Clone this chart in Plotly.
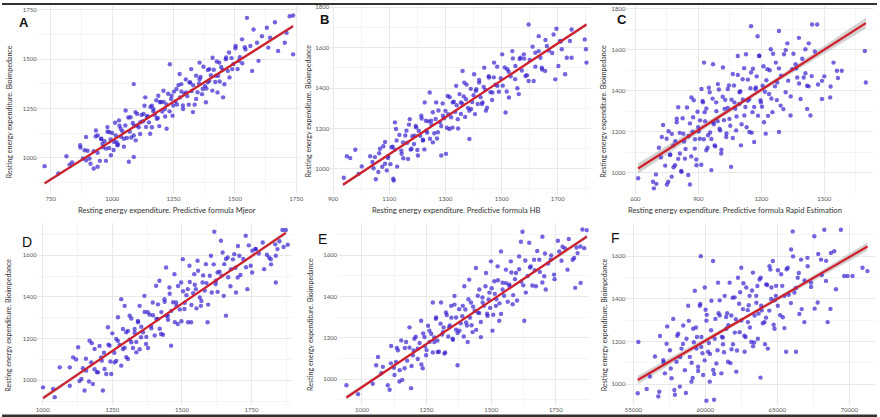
import numpy as np
import plotly.graph_objects as go

# ---------------- data ----------------
panel_letters = ["A", "B", "C", "D", "E", "F"]
x_titles = ["Resting energy expenditure. Predictive formula Mjeor",
            "Resting energy expenditure. Predictive formula HB",
            "Resting energy expenditure. Predictive formula Rapid Estimation"]
y_title = "Resting energy expenditure. Bioimpedance"

a_xy = [(725,958),(781,921),(814,1008),(827,966),(837,977),(870,1064),(871,1052),(888,1039),(881,997),(894,988),
(908,997),(894,1106),(925,946),(941,955),(934,1139),(941,1114),(955,1097),(961,1072),(975,1047),(981,1156),
(988,1131),(995,1013),(1008,1081),(1015,1114),(1021,1064),(1028,1190),(1035,1148),(1048,1097),(1055,1240),(1068,980),
(1075,1206),(1088,1005),(1088,1114),(1088,1374),(1095,1232),(1102,1164),(1115,1181),(1128,1223),(1135,1307),(1142,1206),
(1155,1122),(1162,1265),(1168,1248),(1182,1198),(1188,1315),(1195,1282),(1209,1340),(1215,1248),(1222,1148),(1235,1475),
(1242,1315),(1249,1265),(1262,1349),(1275,1425),(1282,1374),(1289,1248),(1302,1332),(1315,1383),(1322,1450),(1329,1232),
(1342,1299),(1356,1399),(1356,1483),(1369,1349),(1382,1282),(1389,1383),(1396,1450),(1409,1508),(1422,1416),(1429,1332),
(1436,1483),(1452,1307),(1463,1500),(1476,1534),(1489,1450),(1503,1567),(1516,1492),(1529,1601),(1543,1550),(1549,1710),
(1563,1567),(1570,1441),(1576,1651),(1590,1584),(1596,1492),(1610,1617),(1630,1660),(1636,1559),(1643,1609),(1663,1688),
(1676,1542),(1703,1584),(1710,1634),(1723,1718),(1737,1722),(1737,1525),
(900,1036),(912,970),(925,1034),(933,1109),(941,1026),(950,985),(956,1096),(962,1054),(969,1084),(975,985),
(981,1133),(988,1050),(994,1093),(1000,1126),(1006,1040),(1012,1178),(1018,1080),(1024,1068),(1030,1163),(1036,1107),
(1042,1135),(1048,1057),(1054,1164),(1060,1101),(1066,1205),(1072,1133),(1078,1103),(1084,1177),(1090,1163),(1096,1089),
(1102,1223),(1108,1155),(1114,1121),(1120,1218),(1126,1186),(1132,1264),(1138,1157),(1144,1213),(1150,1180),(1156,1258),
(1162,1155),(1168,1237),(1174,1217),(1180,1292),(1186,1202),(1192,1161),(1198,1284),(1204,1235),(1210,1283),(1216,1210),
(1222,1271),(1228,1325),(1234,1236),(1240,1298),(1246,1214),(1252,1336),(1258,1286),(1264,1271),(1270,1369),(1276,1306),
(1282,1337),(1288,1266),(1294,1325),(1300,1398),(1306,1313),(1312,1270),(1318,1382),(1324,1339),(1330,1368),(1336,1270),
(1342,1417),(1348,1333),(1354,1377),(1360,1410),(1366,1323),(1372,1462),(1378,1364),(1384,1352),(1390,1446),(1396,1391),
(1402,1419),(1408,1341),(1414,1447),(1420,1385),(1426,1489),(1432,1416),(1438,1387),(1444,1461),(1450,1447),(1457,1373),
(1464,1509),(1471,1441),(1478,1408),(1486,1506),(1494,1476),(1502,1556),(1511,1451),(1520,1510),(1530,1480),(1540,1561)]

b_xy = [(938,956),(949,1062),(961,1053),(979,1094),(991,975),(1002,1012),(1032,1062),(1044,1003),(1049,1058),(1061,984),
(1067,1099),(1079,1112),(1085,1025),(1091,992),(1096,1062),(1108,1107),(1114,951),(1116,942),(1120,1230),(1124,1197),
(1126,1140),(1144,1074),(1149,1131),(1161,1189),(1167,1049),(1173,1246),(1179,1099),(1191,1164),(1196,1205),(1202,1066),
(1214,1263),(1220,1140),(1226,1329),(1232,1189),(1244,1378),(1249,1238),(1255,1131),(1267,1329),(1273,1181),(1285,1066),
(1291,1263),(1302,1074),(1308,1361),(1314,1197),(1326,1329),(1338,1411),(1344,1246),(1355,1329),(1361,1485),(1367,1427),
(1373,1345),(1385,1148),(1391,1296),(1402,1468),(1408,1386),(1420,1427),(1432,1329),(1438,1501),(1444,1288),(1455,1452),
(1467,1378),(1473,1526),(1485,1411),(1502,1567),(1514,1279),(1520,1493),(1526,1353),(1538,1583),(1549,1509),(1561,1370),
(1567,1550),(1579,1567),(1585,1460),(1596,1715),(1596,1435),(1614,1435),(1620,1575),(1632,1657),(1638,1550),(1643,1501),
(1655,1485),(1661,1608),(1685,1665),(1691,1443),(1702,1509),(1708,1633),(1714,1592),(1726,1468),(1732,1550),(1743,1633),
(1749,1690),(1749,1550),(1796,1641),(1800,1592),(1802,1526),
(1040,1034),(1052,948),(1064,1077),(1075,1010),(1085,1133),(1095,1053),(1104,1023),(1112,1110),(1120,1095),(1128,1011),
(1136,1168),(1143,1090),(1150,1052),(1157,1165),(1164,1129),(1170,1219),(1176,1095),(1182,1161),(1188,1123),(1194,1212),
(1200,1093),(1205,1188),(1210,1164),(1215,1249),(1220,1144),(1225,1096),(1230,1238),(1235,1179),(1240,1235),(1245,1149),
(1250,1218),(1255,1280),(1260,1176),(1265,1247),(1270,1150),(1275,1289),(1280,1231),(1285,1212),(1290,1324),(1295,1250),
(1300,1287),(1305,1203),(1310,1270),(1315,1355),(1320,1255),(1325,1204),(1330,1332),(1335,1282),(1340,1315),(1345,1200),
(1350,1370),(1355,1272),(1360,1322),(1365,1359),(1370,1257),(1375,1417),(1380,1302),(1385,1288),(1390,1396),(1395,1331),
(1400,1364),(1405,1271),(1410,1394),(1415,1321),(1420,1440),(1425,1355),(1430,1321),(1436,1406),(1442,1390),(1448,1303),
(1454,1459),(1460,1380),(1466,1341),(1472,1453),(1478,1416),(1484,1506),(1490,1382),(1497,1449),(1504,1412),(1511,1502),
(1518,1383),(1525,1481),(1532,1458),(1540,1547),(1548,1444),(1556,1399),(1564,1544),(1572,1487),(1580,1546),(1590,1464),
(1600,1539),(1610,1605),(1620,1506),(1632,1583),(1644,1492),(1656,1638),(1668,1586),(1680,1574),(1695,1694),(1710,1630)]

c_xy = [(613,973),(684,956),(688,924),(698,992),(726,1175),(749,1166),(757,956),(765,1086),(773,981),(781,1134),
(789,1037),(797,1247),(804,1320),(812,1094),(820,1005),(828,1191),(836,1069),(852,989),(860,943),(867,1368),
(875,1271),(883,1118),(891,1037),(899,1223),(907,1166),(915,1409),(922,1344),(927,1538),(930,1296),(938,1110),
(946,1183),(954,1393),(962,1013),(970,1530),(970,1247),(978,1134),(985,1344),(993,1433),(1001,1215),(1009,1094),
(1017,1514),(1025,1312),(1033,1175),(1040,1409),(1048,1263),(1056,1029),(1064,1482),(1072,1344),(1080,1207),(1088,1570),
(1096,1393),(1103,1134),(1111,1457),(1119,1280),(1127,1579),(1135,1352),(1143,1199),(1151,1490),(1158,1296),(1166,1150),
(1174,1417),(1182,1667),(1190,1570),(1198,1344),(1206,1425),(1213,1247),(1221,1191),(1229,1506),(1237,1385),(1245,1603),
(1253,1296),(1269,1538),(1276,1441),(1284,1692),(1284,1199),(1292,1328),(1308,1579),(1316,1393),(1324,1632),(1339,1280),
(1347,1506),(1363,1530),(1371,1465),(1379,1659),(1387,1360),(1402,1465),(1410,1603),(1418,1425),(1418,1312),(1426,1632),
(1434,1280),(1442,1724),(1466,1724),(1489,1449),(1489,1360),(1528,1368),(1544,1538),(1560,1498),(1583,1498),(1693,1595),
(1698,1441),(1151,1716),
(700,946),(712,1122),(722,1075),(732,1233),(742,1035),(750,943),(758,1203),(766,1090),(774,1190),(782,1027),
(790,1154),(797,1264),(804,1068),(811,1195),(818,1009),(825,1266),(832,1153),(839,1116),(846,1319),(853,1178),
(860,1241),(866,1080),(872,1201),(878,1354),(884,1164),(890,1065),(896,1298),(902,1202),(908,1256),(914,1039),
(920,1351),(926,1164),(932,1252),(938,1314),(944,1122),(950,1415),(956,1197),(962,1165),(968,1362),(974,1237),
(980,1129),(986,1301),(992,1252),(998,1407),(1004,1207),(1010,1113),(1016,1371),(1022,1257),(1028,1356),(1034,1192),
(1040,1317),(1046,1427),(1052,1230),(1058,1357),(1064,1170),(1070,1426),(1076,1313),(1082,1275),(1088,1478),(1094,1335),
(1100,1398),(1106,1237),(1112,1358),(1118,1511),(1124,1321),(1130,1222),(1136,1455),(1142,1359),(1148,1413),(1154,1196),
(1160,1508),(1166,1321),(1172,1408),(1178,1471),(1184,1279),(1190,1572),(1196,1354),(1203,1323),(1210,1520),(1217,1396),
(1224,1452),(1232,1278),(1240,1501),(1248,1363),(1256,1581),(1265,1422),(1274,1355),(1284,1510),(1294,1474),(1305,1311),
(1316,1599),(1328,1450),(1340,1373),(1353,1581),(1366,1510),(1380,1436),(1395,1557),(1410,1486),(1425,1422),(1440,1472),
(1455,1592),(1470,1431),(1500,1471),(1530,1421),(1565,1463)]

d_xy = [(1001,966),(1037,958),(1043,919),(1061,1062),(1097,974),(1097,1062),(1109,1110),(1127,1158),(1139,1006),(1150,951),
(1156,1046),(1168,1190),(1174,1086),(1180,982),(1186,1150),(1198,1038),(1210,1110),(1216,951),(1222,1054),(1234,1254),
(1240,1166),(1246,1030),(1258,1086),(1264,1198),(1270,1302),(1282,1389),(1288,1150),(1294,1357),(1300,1230),(1306,1102),
(1312,1310),(1318,1182),(1330,1246),(1336,1134),(1342,1278),(1348,1357),(1353,1206),(1365,1405),(1371,1174),(1377,1326),
(1389,1262),(1395,1373),(1407,1453),(1413,1294),(1419,1477),(1425,1222),(1437,1389),(1443,1541),(1449,1310),(1455,1445),
(1461,1166),(1473,1509),(1479,1373),(1485,1270),(1497,1469),(1503,1581),(1509,1342),(1521,1437),(1527,1549),(1533,1278),
(1544,1509),(1550,1437),(1556,1573),(1568,1357),(1574,1469),(1586,1557),(1592,1278),(1604,1597),(1616,1712),(1622,1477),
(1628,1517),(1640,1669),(1646,1613),(1652,1557),(1658,1310),(1664,1589),(1676,1533),(1688,1605),(1694,1421),(1700,1493),
(1706,1597),(1729,1693),(1735,1437),(1747,1549),(1753,1621),(1765,1629),(1795,1533),(1813,1589),(1819,1581),(1837,1597),
(1837,1469),(1843,1629),(1861,1721),(1873,1721),
(1120,1100),(1132,996),(1144,1058),(1155,1103),(1166,994),(1176,1178),(1186,1053),(1195,1039),(1204,1164),(1212,1094),
(1220,1132),(1228,1030),(1236,1171),(1243,1090),(1250,1225),(1257,1132),(1264,1093),(1270,1189),(1276,1169),(1282,1070),
(1288,1246),(1294,1156),(1300,1111),(1306,1237),(1312,1195),(1318,1296),(1324,1155),(1330,1228),(1336,1184),(1342,1285),
(1348,1149),(1354,1257),(1360,1230),(1366,1328),(1372,1208),(1378,1155),(1384,1315),(1390,1249),(1396,1312),(1402,1215),
(1408,1294),(1414,1364),(1420,1247),(1426,1327),(1432,1218),(1438,1376),(1444,1310),(1450,1290),(1456,1415),(1462,1333),
(1468,1374),(1474,1279),(1480,1356),(1486,1452),(1492,1340),(1498,1283),(1504,1427),(1510,1372),(1516,1408),(1522,1278),
(1528,1471),(1534,1361),(1540,1418),(1546,1458),(1552,1345),(1558,1525),(1564,1397),(1570,1380),(1576,1503),(1582,1430),
(1588,1466),(1594,1363),(1600,1501),(1607,1421),(1614,1556),(1621,1462),(1628,1424),(1635,1521),(1642,1502),(1650,1405),
(1658,1582),(1666,1494),(1674,1451),(1683,1580),(1692,1540),(1701,1644),(1710,1505),(1720,1582),(1730,1542),(1740,1647),
(1752,1517),(1764,1630),(1776,1608),(1790,1661),(1805,1602),(1820,1556),(1835,1652),(1850,1667),(1865,1639),(1880,1650)]

e_xy = [(940,971),(985,928),(1042,978),(1055,1068),(1062,1108),(1075,1029),(1081,1060),(1107,949),(1113,1161),(1126,1021),
(1132,1084),(1139,1140),(1145,989),(1152,1188),(1165,1053),(1171,1180),(1184,1251),(1190,957),(1197,1116),(1203,1196),
(1216,1148),(1229,1283),(1235,1053),(1242,1204),(1248,1116),(1261,1235),(1274,1371),(1280,1180),(1287,1299),(1293,1132),
(1306,1371),(1313,1228),(1319,1124),(1325,1323),(1338,1251),(1345,1355),(1351,1196),(1358,1403),(1364,1299),(1370,1068),
(1377,1235),(1390,1355),(1396,1450),(1403,1275),(1409,1180),(1415,1482),(1422,1371),(1428,1228),(1441,1538),(1448,1323),
(1454,1434),(1460,1204),(1467,1371),(1480,1514),(1486,1307),(1493,1419),(1499,1570),(1505,1235),(1512,1474),(1518,1355),
(1525,1546),(1531,1283),(1538,1618),(1544,1434),(1557,1530),(1570,1458),(1576,1570),(1583,1363),(1596,1514),(1608,1594),
(1615,1665),(1621,1713),(1628,1283),(1634,1419),(1647,1660),(1653,1546),(1666,1578),(1673,1450),(1686,1578),(1698,1689),
(1705,1498),(1711,1434),(1730,1578),(1743,1506),(1763,1618),(1776,1641),(1795,1530),(1821,1586),(1825,1442),(1834,1610),
(1846,1466),(1853,1724),(1870,1721),
(1100,971),(1112,1077),(1124,1056),(1135,1152),(1146,1044),(1156,997),(1166,1151),(1175,1090),(1184,1153),(1192,1064),
(1200,1139),(1208,1206),(1216,1098),(1223,1175),(1230,1072),(1237,1221),(1244,1160),(1250,1141),(1256,1259),(1262,1181),
(1268,1220),(1274,1130),(1280,1202),(1286,1292),(1292,1187),(1298,1133),(1304,1269),(1310,1216),(1316,1250),(1322,1130),
(1328,1311),(1334,1207),(1340,1260),(1346,1298),(1352,1191),(1358,1361),(1364,1240),(1370,1224),(1376,1339),(1382,1271),
(1388,1305),(1394,1207),(1400,1337),(1406,1260),(1412,1387),(1418,1298),(1424,1261),(1430,1351),(1436,1332),(1442,1239),
(1448,1404),(1454,1320),(1460,1277),(1466,1395),(1472,1355),(1478,1450),(1484,1317),(1490,1386),(1496,1345),(1502,1440),
(1508,1312),(1514,1413),(1520,1387),(1526,1479),(1532,1367),(1538,1316),(1544,1467),(1550,1404),(1557,1465),(1564,1375),
(1571,1450),(1578,1516),(1585,1407),(1592,1484),(1600,1381),(1608,1532),(1616,1472),(1624,1454),(1632,1574),(1641,1499),
(1650,1540),(1659,1453),(1668,1527),(1678,1620),(1688,1519),(1698,1468),(1708,1608),(1720,1560),(1732,1599),(1745,1484),
(1758,1670),(1772,1573),(1786,1633),(1800,1678),(1815,1578),(1830,1637),(1845,1642),(1860,1634)]

f_xy = [(55300,958),(55346,1198),(55923,978),(56154,1036),(56731,943),(56846,1226),(57077,1113),(57192,1051),(57308,1190),(57539,1159),
(57654,1028),(57770,1306),(57885,951),(58000,1105),(58116,1237),(58231,989),(58347,1167),(58462,1275),(58578,1066),(58693,1213),
(58808,1368),(58924,1128),(59039,1012),(59154,1260),(59270,1438),(59385,1167),(59500,1082),(59616,1368),(59685,1600),(59731,1221),
(59847,1043),(59962,1453),(60077,1298),(60193,1152),(60308,1012),(60424,1391),(60539,1577),(60608,927),(60654,1213),(60770,1097),
(60885,1476),(61000,1322),(61116,1051),(61231,1187),(61347,1414),(61462,1260),(61578,1105),(61693,1476),(61808,1322),(61924,1187),
(62039,1407),(62154,1059),(62270,1499),(62385,1244),(62501,1546),(62616,1352),(62732,1152),(62847,1453),(62962,1291),(63078,1414),
(63193,1198),(63309,1523),(63424,1322),(63540,1414),(63655,1213),(63770,1491),(63840,1031),(63886,1368),(64117,1291),(64232,1468),
(64347,1167),(64463,1553),(64578,1399),(64693,1577),(64809,1260),(64924,1461),(65040,1368),(65271,1515),(65386,1314),(65501,1414),
(65617,1152),(65732,1546),(65963,1631),(66078,1716),(66194,1430),(66309,1152),(66425,1499),(66540,1329),(66656,1584),(66886,1291),
(67117,1553),(67348,1476),(67579,1693),(67810,1383),(68041,1584),(68272,1724),(68387,1484),(68502,1291),(68733,1615),(68964,1623),
(69080,1445),(69426,1724),(69657,1507),(69888,1507),(70234,1507),(70926,1546),(71272,1530),(60077,923),
(56500,1130),(56800,965),(57100,1103),(57350,1271),(57600,1074),(57850,973),(58050,1227),(58250,1127),(58450,1189),(58650,959),
(58850,1297),(59050,1101),(59200,1197),(59350,1266),(59500,1062),(59650,1376),(59800,1145),(59950,1112),(60100,1325),(60250,1193),
(60400,1253),(60550,1067),(60700,1306),(60850,1159),(61000,1393),(61150,1222),(61300,1150),(61450,1315),(61600,1276),(61750,1099),
(61900,1405),(62050,1242),(62200,1158),(62350,1377),(62500,1299),(62650,1473),(62800,1221),(62950,1347),(63100,1266),(63250,1439),
(63400,1196),(63550,1382),(63700,1331),(63850,1499),(64000,1286),(64150,1187),(64300,1465),(64450,1345),(64600,1453),(64750,1279),
(64900,1414),(65050,1534),(65200,1324),(65350,1461),(65500,1263),(65650,1539),(65800,1419),(65950,1380),(66100,1599),(66300,1451),
(66500,1521),(66700,1352),(66900,1486),(67100,1592),(67350,1456),(67600,1354),(67850,1610),(68100,1512),(68400,1578),(68700,1353),
(59120,1029),(59420,1221),(59720,1175),(60020,1349),(60320,1142),(60620,1048),(60920,1333),(61220,1219),(61520,1333),(61820,1164),
(62120,1305),(62420,1431),(62720,1227),(63020,1370),(63320,1178),(63620,1460),(63920,1346),(64220,1312),(64520,1537),(64820,1393)]

# fitted regression lines as drawn in the picture (start / end)
a_fit_x, a_fit_y = [725, 1737], [871, 1668]
b_fit_x, b_fit_y = [935, 1802], [921, 1715]
c_fit_x, c_fit_y = [613, 1698], [1021, 1731]
d_fit_x, d_fit_y = [1001, 1873], [914, 1707]
e_fit_x, e_fit_y = [940, 1870], [912, 1690]
f_fit_x, f_fit_y = [55300, 71272], [1020, 1645]
# confidence band half-width (at the ends, at the centre), in y units
band_hw = [(9, 4), (9, 4), (26, 10), (10, 4), (10, 4), (20, 8)]

panel_data = [a_xy, b_xy, c_xy, d_xy, e_xy, f_xy]
panel_fit = [(a_fit_x, a_fit_y), (b_fit_x, b_fit_y), (c_fit_x, c_fit_y),
             (d_fit_x, d_fit_y), (e_fit_x, e_fit_y), (f_fit_x, f_fit_y)]

# ---------------- layout geometry (pixels) ----------------
W, H = 880, 417
boxes = [(36, 300, 3, 192), (330, 592, 3, 192), (628, 876, 3, 192),
         (36, 292, 222, 405), (338, 590, 222, 405), (628, 878, 222, 405)]
xcal = [((750, 49), (1750, 296)), ((900, 333), (1700, 559)), ((600, 637), (1500, 827)),
        ((1000, 41), (1750, 251)), ((1000, 362), (1750, 557)), ((55000, 635), (70000, 852))]
ycal = [((1750, 7), (1000, 156)), ((1600, 45), (1000, 167)), ((1800, 6), (1000, 171)),
        ((1600, 254), (1000, 380)), ((1600, 254), (1000, 379)), ((1600, 255), (1000, 384))]
xdt = [250, 200, 300, 250, 250, 5000]
xt0 = [0, 900, 0, 0, 0, 0]
ydt = [250, 200, 200, 200, 200, 200]
letter_pos = [(22, 20), (324, 17), (624, 17), (25, 241), (322, 238), (617, 237)]
ytitle_pos = [(7, 109), (308, 109), (605, 109), (7, 324), (310, 324), (606, 324)]
xtitle_pos = [(166, 209), (457, 209), (737, 209)]


def val_at(cal, p):
    (v1, p1), (v2, p2) = cal
    return v1 + (p - p1) * (v2 - v1) / (p2 - p1)


fig = go.Figure()
font_family = "Lato"
grid_major = "#e9e9e9"
grid_minor = "#f4f4f4"

for i in range(6):
    k = "" if i == 0 else str(i + 1)
    xa, ya = "x" + k, "y" + k
    xy = panel_data[i]
    x = [p[0] for p in xy]
    y = [p[1] for p in xy]
    fx, fy = panel_fit[i]
    xg = np.linspace(fx[0], fx[1], 50)
    yg = np.interp(xg, fx, fy)
    hw_end, hw_mid = band_hw[i]
    u = (xg - (fx[0] + fx[1]) / 2) / ((fx[1] - fx[0]) / 2)
    hw = np.sqrt(hw_mid ** 2 + (hw_end ** 2 - hw_mid ** 2) * u ** 2)
    fig.add_trace(go.Scatter(x=list(xg) + list(xg[::-1]), y=list(yg + hw) + list((yg - hw)[::-1]),
                             fill="toself", fillcolor="rgba(150,150,150,0.42)",
                             line=dict(width=0), mode="lines", xaxis=xa, yaxis=ya,
                             showlegend=False, hoverinfo="skip"))
    fig.add_trace(go.Scatter(x=x, y=y, mode="markers", xaxis=xa, yaxis=ya, showlegend=False,
                             marker=dict(size=4.4, color="rgba(48,28,205,0.68)", line=dict(width=0))))
    fig.add_trace(go.Scatter(x=fx, y=fy, mode="lines", xaxis=xa, yaxis=ya, showlegend=False,
                             line=dict(color="#d01f2a", width=2.2)))

    l, r, t, btm = boxes[i]
    xr = [val_at(xcal[i], l), val_at(xcal[i], r)]
    yr = [val_at(ycal[i], btm), val_at(ycal[i], t)]
    common = dict(showline=False, zeroline=False, ticks="", showgrid=True, gridcolor=grid_major,
                  gridwidth=0.8, tickformat="d", tickfont=dict(family=font_family, size=6, color="#555555"))
    fig.layout["xaxis" + k] = dict(domain=[l / W, r / W], range=xr, anchor=ya, dtick=xdt[i], tick0=xt0[i],
                                   minor=dict(dtick=xdt[i] / 2, tick0=xt0[i], showgrid=True,
                                              gridcolor=grid_minor, gridwidth=0.6), **common)
    fig.layout["yaxis" + k] = dict(domain=[1 - btm / H, 1 - t / H], range=yr, anchor=xa, dtick=ydt[i], tick0=0,
                                   minor=dict(dtick=ydt[i] / 2, tick0=0, showgrid=True,
                                              gridcolor=grid_minor, gridwidth=0.6), **common)

ann = []
for i in range(6):
    px, py = letter_pos[i]
    txt = "<b>" + panel_letters[i] + "</b>" if i < 3 else panel_letters[i]
    ann.append(dict(x=px / W, y=1 - py / H, xref="paper", yref="paper", text=txt,
                    showarrow=False, xanchor="center", yanchor="middle",
                    font=dict(family="Liberation Sans", size=13 if i < 3 else 14, color="#111111")))
    px, py = ytitle_pos[i]
    ann.append(dict(x=px / W, y=1 - py / H, xref="paper", yref="paper", text=y_title, textangle=-90,
                    showarrow=False, xanchor="center", yanchor="middle",
                    font=dict(family=font_family, size=7.1, color="#333333")))
for j in range(3):
    px, py = xtitle_pos[j]
    ann.append(dict(x=px / W, y=1 - py / H, xref="paper", yref="paper", text=x_titles[j],
                    showarrow=False, xanchor="center", yanchor="middle",
                    font=dict(family=font_family, size=7.6, color="#333333")))

shapes = [dict(type="rect", xref="paper", yref="paper", x0=0, x1=1, y0=1 - 2 / H, y1=1,
               fillcolor="#333333", line=dict(width=0)),
          dict(type="rect", xref="paper", yref="paper", x0=0, x1=1, y0=0, y1=2.5 / H,
               fillcolor="#333333", line=dict(width=0))]

fig.update_layout(width=W, height=H, margin=dict(l=0, r=0, t=0, b=0), paper_bgcolor="white",
                  plot_bgcolor="white", annotations=ann, shapes=shapes, hovermode=False,
                  font=dict(family=font_family))

fig.write_html("out.html", config={"displayModeBar": False})
